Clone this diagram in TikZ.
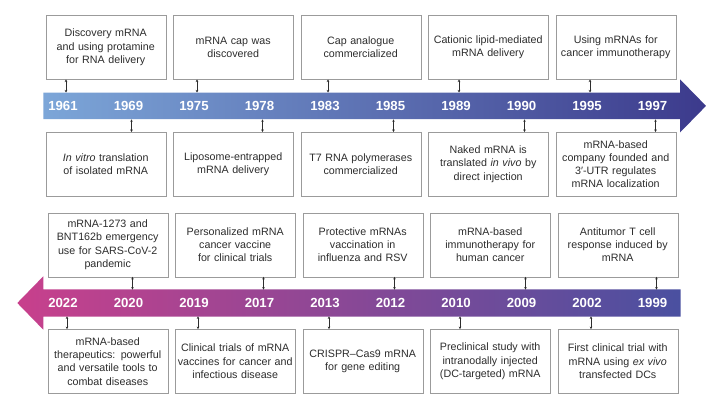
\documentclass[tikz,border=0pt]{standalone}
\usepackage{fontspec}
\setmainfont{Liberation Sans}
\usetikzlibrary{arrows.meta}
\definecolor{BoxGray}{RGB}{155,155,155}
\definecolor{TextGray}{RGB}{45,45,45}
\definecolor{BlueLight}{RGB}{124,166,216}
\definecolor{BlueMid}{RGB}{88,118,188}
\definecolor{BlueDark}{RGB}{60,58,140}
\definecolor{Magenta}{RGB}{200,64,140}
\definecolor{Purple}{RGB}{132,72,152}
\definecolor{BlueEnd}{RGB}{74,80,160}

\begin{document}
\begin{tikzpicture}[x=1pt, y=-1pt,
    event/.style={draw=BoxGray, fill=white, minimum width=120pt, minimum height=64pt, text width=119pt, inner sep=0pt, align=center, text=TextGray, font=\fontsize{10.7}{13.3}\selectfont},
    year/.style={minimum height=26.4pt, inner sep=0pt, text=white, font=\fontsize{13.2}{13.2}\selectfont\bfseries},
    link/.style={{Stealth[length=2.5pt, width=2.5pt]}-{Stealth[length=2.5pt, width=2.5pt]}, semithick, TextGray}]
        \useasboundingbox (0,0) rectangle (707,401);

        % upper timeline
        \shade[left color=BlueLight, middle color=BlueMid, right color=BlueDark] (43.3,92.7) -- (680,92.7) -- (680,79.3) -- (706,105.9) -- (680,132.5) -- (680,119.1) -- (43.3,119.1) -- cycle;

        \node (y1961) at (63,105.9)[year] {1961};
        \node (y1969) at (128.5,105.9)[year] {1969};
        \node (y1975) at (194,105.9)[year] {1975};
        \node (y1978) at (259.5,105.9)[year] {1978};
        \node (y1983) at (325,105.9)[year] {1983};
        \node (y1985) at (390.5,105.9)[year] {1985};
        \node (y1989) at (456,105.9)[year] {1989};
        \node (y1990) at (521.5,105.9)[year] {1990};
        \node (y1995) at (587,105.9)[year] {1995};
        \node (y1997) at (652.5,105.9)[year] {1997};

        \node (t1) at (105.7,47.3)[event] {Discovery mRNA\\and using protamine\\for RNA delivery};
        \node (t2) at (233.2,47.3)[event] {mRNA cap was\\discovered};
        \node (t3) at (360.7,47.3)[event] {Cap analogue\\commercialized};
        \node (t4) at (488.2,47.3)[event] {Cationic lipid-mediated\\mRNA delivery};
        \node (t5) at (615.7,47.3)[event] {Using mRNAs for\\cancer immunotherapy};

        \node (b1) at (105.7,164.2)[event] {\textit{In vitro} translation\\of isolated mRNA};
        \node (b2) at (233.2,164.2)[event] {Liposome-entrapped\\mRNA delivery};
        \node (b3) at (360.7,164.2)[event] {T7 RNA polymerases\\commercialized};
        \node (b4) at (488.2,164.2)[event] {Naked mRNA is\\translated \textit{in vivo} by\\direct injection};
        \node (b5) at (615.7,164.2)[event] {mRNA-based\\company founded and\\3′-UTR regulates\\mRNA localization};

        \draw[link] ([xshift=3pt]y1961.north |- t1.south) -- ([xshift=3pt]y1961.north);
        \draw[link] ([xshift=3pt]y1975.north |- t2.south) -- ([xshift=3pt]y1975.north);
        \draw[link] ([xshift=3pt]y1983.north |- t3.south) -- ([xshift=3pt]y1983.north);
        \draw[link] ([xshift=3pt]y1989.north |- t4.south) -- ([xshift=3pt]y1989.north);
        \draw[link] ([xshift=3pt]y1995.north |- t5.south) -- ([xshift=3pt]y1995.north);

        \draw[link] ([xshift=3pt]y1969.south) -- ([xshift=3pt]y1969.south |- b1.north);
        \draw[link] ([xshift=3pt]y1978.south) -- ([xshift=3pt]y1978.south |- b2.north);
        \draw[link] ([xshift=3pt]y1985.south) -- ([xshift=3pt]y1985.south |- b3.north);
        \draw[link] ([xshift=3pt]y1990.south) -- ([xshift=3pt]y1990.south |- b4.north);
        \draw[link] ([xshift=3pt]y1997.south) -- ([xshift=3pt]y1997.south |- b5.north);

        % lower timeline
        \shade[left color=Magenta, middle color=Purple, right color=BlueEnd] (680.7,289.3) -- (43.3,289.3) -- (43.3,276.3) -- (17.3,303) -- (43.3,329.7) -- (43.3,316.7) -- (680.7,316.7) -- cycle;

        \node (y2022) at (63,303)[year] {2022};
        \node (y2020) at (128.5,303)[year] {2020};
        \node (y2019) at (194,303)[year] {2019};
        \node (y2017) at (259.5,303)[year] {2017};
        \node (y2013) at (325,303)[year] {2013};
        \node (y2012) at (390.5,303)[year] {2012};
        \node (y2010) at (456,303)[year] {2010};
        \node (y2009) at (521.5,303)[year] {2009};
        \node (y2002) at (587,303)[year] {2002};
        \node (y1999) at (652.5,303)[year] {1999};

        \node (u1) at (107.7,244.7)[event] {mRNA-1273 and\\BNT162b emergency\\use for SARS-CoV-2\\pandemic};
        \node (u2) at (235.2,244.7)[event] {Personalized mRNA\\cancer vaccine\\for clinical trials};
        \node (u3) at (362.7,244.7)[event] {Protective mRNAs\\vaccination in\\influenza and RSV};
        \node (u4) at (490.2,244.7)[event] {mRNA-based\\immunotherapy for\\human cancer};
        \node (u5) at (617.7,244.7)[event] {Antitumor T cell\\response induced by\\mRNA};

        \node (l1) at (107.7,361.3)[event] {mRNA-based\\therapeutics: powerful\\and versatile tools to\\combat diseases};
        \node (l2) at (235.2,361.3)[event] {Clinical trials of mRNA\\vaccines for cancer and\\infectious disease};
        \node (l3) at (362.7,361.3)[event] {CRISPR–Cas9 mRNA\\for gene editing};
        \node (l4) at (490.2,361.3)[event] {Preclinical study with\\intranodally injected\\(DC-targeted) mRNA};
        \node (l5) at (617.7,361.3)[event] {First clinical trial with\\mRNA using \textit{ex vivo}\\transfected DCs};

        \draw[link] ([xshift=4pt]y2020.north |- u1.south) -- ([xshift=4pt]y2020.north);
        \draw[link] ([xshift=4pt]y2017.north |- u2.south) -- ([xshift=4pt]y2017.north);
        \draw[link] ([xshift=4pt]y2012.north |- u3.south) -- ([xshift=4pt]y2012.north);
        \draw[link] ([xshift=4pt]y2009.north |- u4.south) -- ([xshift=4pt]y2009.north);
        \draw[link] ([xshift=4pt]y1999.north |- u5.south) -- ([xshift=4pt]y1999.north);

        \draw[link] ([xshift=4pt]y2022.south) -- ([xshift=4pt]y2022.south |- l1.north);
        \draw[link] ([xshift=4pt]y2019.south) -- ([xshift=4pt]y2019.south |- l2.north);
        \draw[link] ([xshift=4pt]y2013.south) -- ([xshift=4pt]y2013.south |- l3.north);
        \draw[link] ([xshift=4pt]y2010.south) -- ([xshift=4pt]y2010.south |- l4.north);
        \draw[link] ([xshift=4pt]y2002.south) -- ([xshift=4pt]y2002.south |- l5.north);

    \end{tikzpicture}
\end{document}
